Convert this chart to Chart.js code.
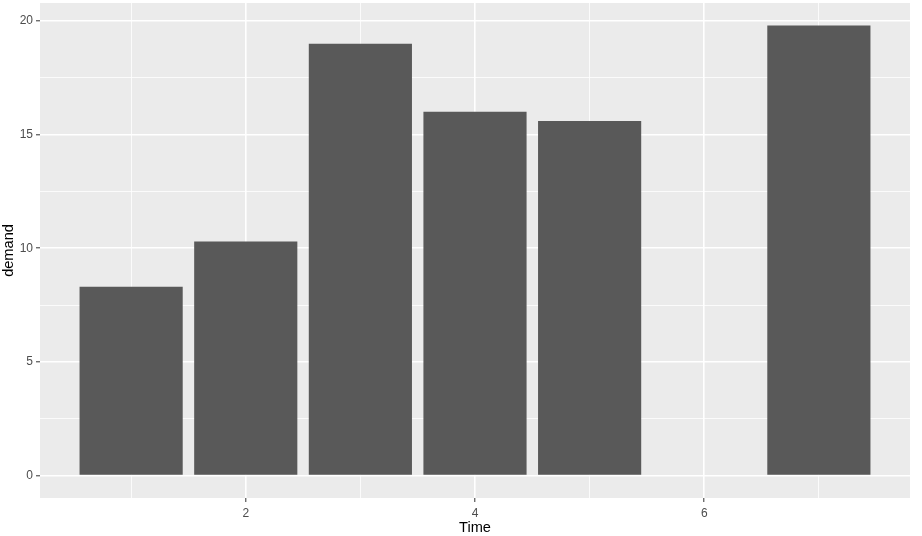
<!DOCTYPE html>
<html>
<head>
<meta charset="utf-8">
<script src="https://cdn.jsdelivr.net/npm/chart.js@4.4.1/dist/chart.umd.min.js"></script>
<style>
  html, body { margin: 0; padding: 0; background: #ffffff; }
  canvas { display: block; }
</style>
</head>
<body>
<canvas id="chart" width="922" height="536"></canvas>
<script>
// BOD data
const times = [1, 2, 3, 4, 5, 7];
const demand = [8.3, 10.3, 19.0, 16.0, 15.6, 19.8];

// breaks: major ones get labels, the rest are minor grid lines
const xTicks = [1, 2, 3, 4, 5, 6, 7];
const xLabels = [2, 4, 6];
const yTicks = [0, 2.5, 5, 7.5, 10, 12.5, 15, 17.5, 20];
const yLabels = [0, 5, 10, 15, 20];

const panelBg = {
  id: 'panelBg',
  beforeDraw(chart) {
    const a = chart.chartArea, c = chart.ctx;
    c.save();
    c.fillStyle = '#EBEBEB';
    c.fillRect(a.left, a.top, a.right - a.left, a.bottom - a.top);
    c.restore();
  }
};

// scriptable options get called without a tick sometimes
const isMajor = (list, c) => !!(c && c.tick && list.includes(c.tick.value));

// drop the label overhang padding so the panel fills the canvas like ggplot
const noPad = s => { s.paddingTop = 0; s.paddingBottom = 0; s.paddingLeft = 0; s.paddingRight = 0; };

new Chart(document.getElementById('chart'), {
  type: 'bar',
  data: {
    datasets: [{
      data: times.map((t, i) => ({ x: t, y: demand[i] })),
      backgroundColor: '#595959',
      borderWidth: 0,
      barPercentage: 0.9,
      categoryPercentage: 1
    }]
  },
  options: {
    responsive: false,
    animation: false,
    devicePixelRatio: 1,
    layout: { padding: { top: 3, right: 12, left: 0, bottom: 0 } },
    plugins: { legend: { display: false }, tooltip: { enabled: false } },
    scales: {
      x: {
        type: 'linear',
        offset: false,
        min: 0.205,
        max: 7.795,
        afterBuildTicks: s => { s.ticks = xTicks.map(v => ({ value: v })); },
        afterFit: s => { s.height = 38; noPad(s); },
        border: { display: false },
        grid: {
          offset: false,
          color: '#FFFFFF',
          lineWidth: c => isMajor(xLabels, c) ? 1.6 : 0.8,
          tickColor: c => isMajor(xLabels, c) ? '#333333' : 'rgba(0,0,0,0)',
          tickWidth: 1,
          tickLength: 4
        },
        ticks: {
          autoSkip: false,
          maxRotation: 0,
          padding: 4,
          color: '#4D4D4D',
          font: { family: 'Liberation Sans, Arial', size: 12 },
          callback: v => xLabels.includes(v) ? String(v) : ''
        },
        title: {
          display: true,
          text: 'Time',
          color: '#000000',
          padding: { top: 0, bottom: -1 },
          font: { family: 'Liberation Sans, Arial', size: 14.6 }
        }
      },
      y: {
        min: -0.99,
        max: 20.79,
        afterBuildTicks: s => { s.ticks = yTicks.map(v => ({ value: v })); },
        afterFit: s => { s.width = 40; noPad(s); },
        border: { display: false },
        grid: {
          color: '#FFFFFF',
          lineWidth: c => isMajor(yLabels, c) ? 1.6 : 0.8,
          tickColor: c => isMajor(yLabels, c) ? '#333333' : 'rgba(0,0,0,0)',
          tickWidth: 1,
          tickLength: 4
        },
        ticks: {
          autoSkip: false,
          padding: 3,
          color: '#4D4D4D',
          font: { family: 'Liberation Sans, Arial', size: 12 },
          callback: v => yLabels.includes(v) ? String(v) : ''
        },
        title: {
          display: true,
          text: 'demand',
          color: '#000000',
          padding: 0,
          font: { family: 'Liberation Sans, Arial', size: 14.6 }
        }
      }
    }
  },
  plugins: [panelBg]
});
</script>
</body>
</html>
